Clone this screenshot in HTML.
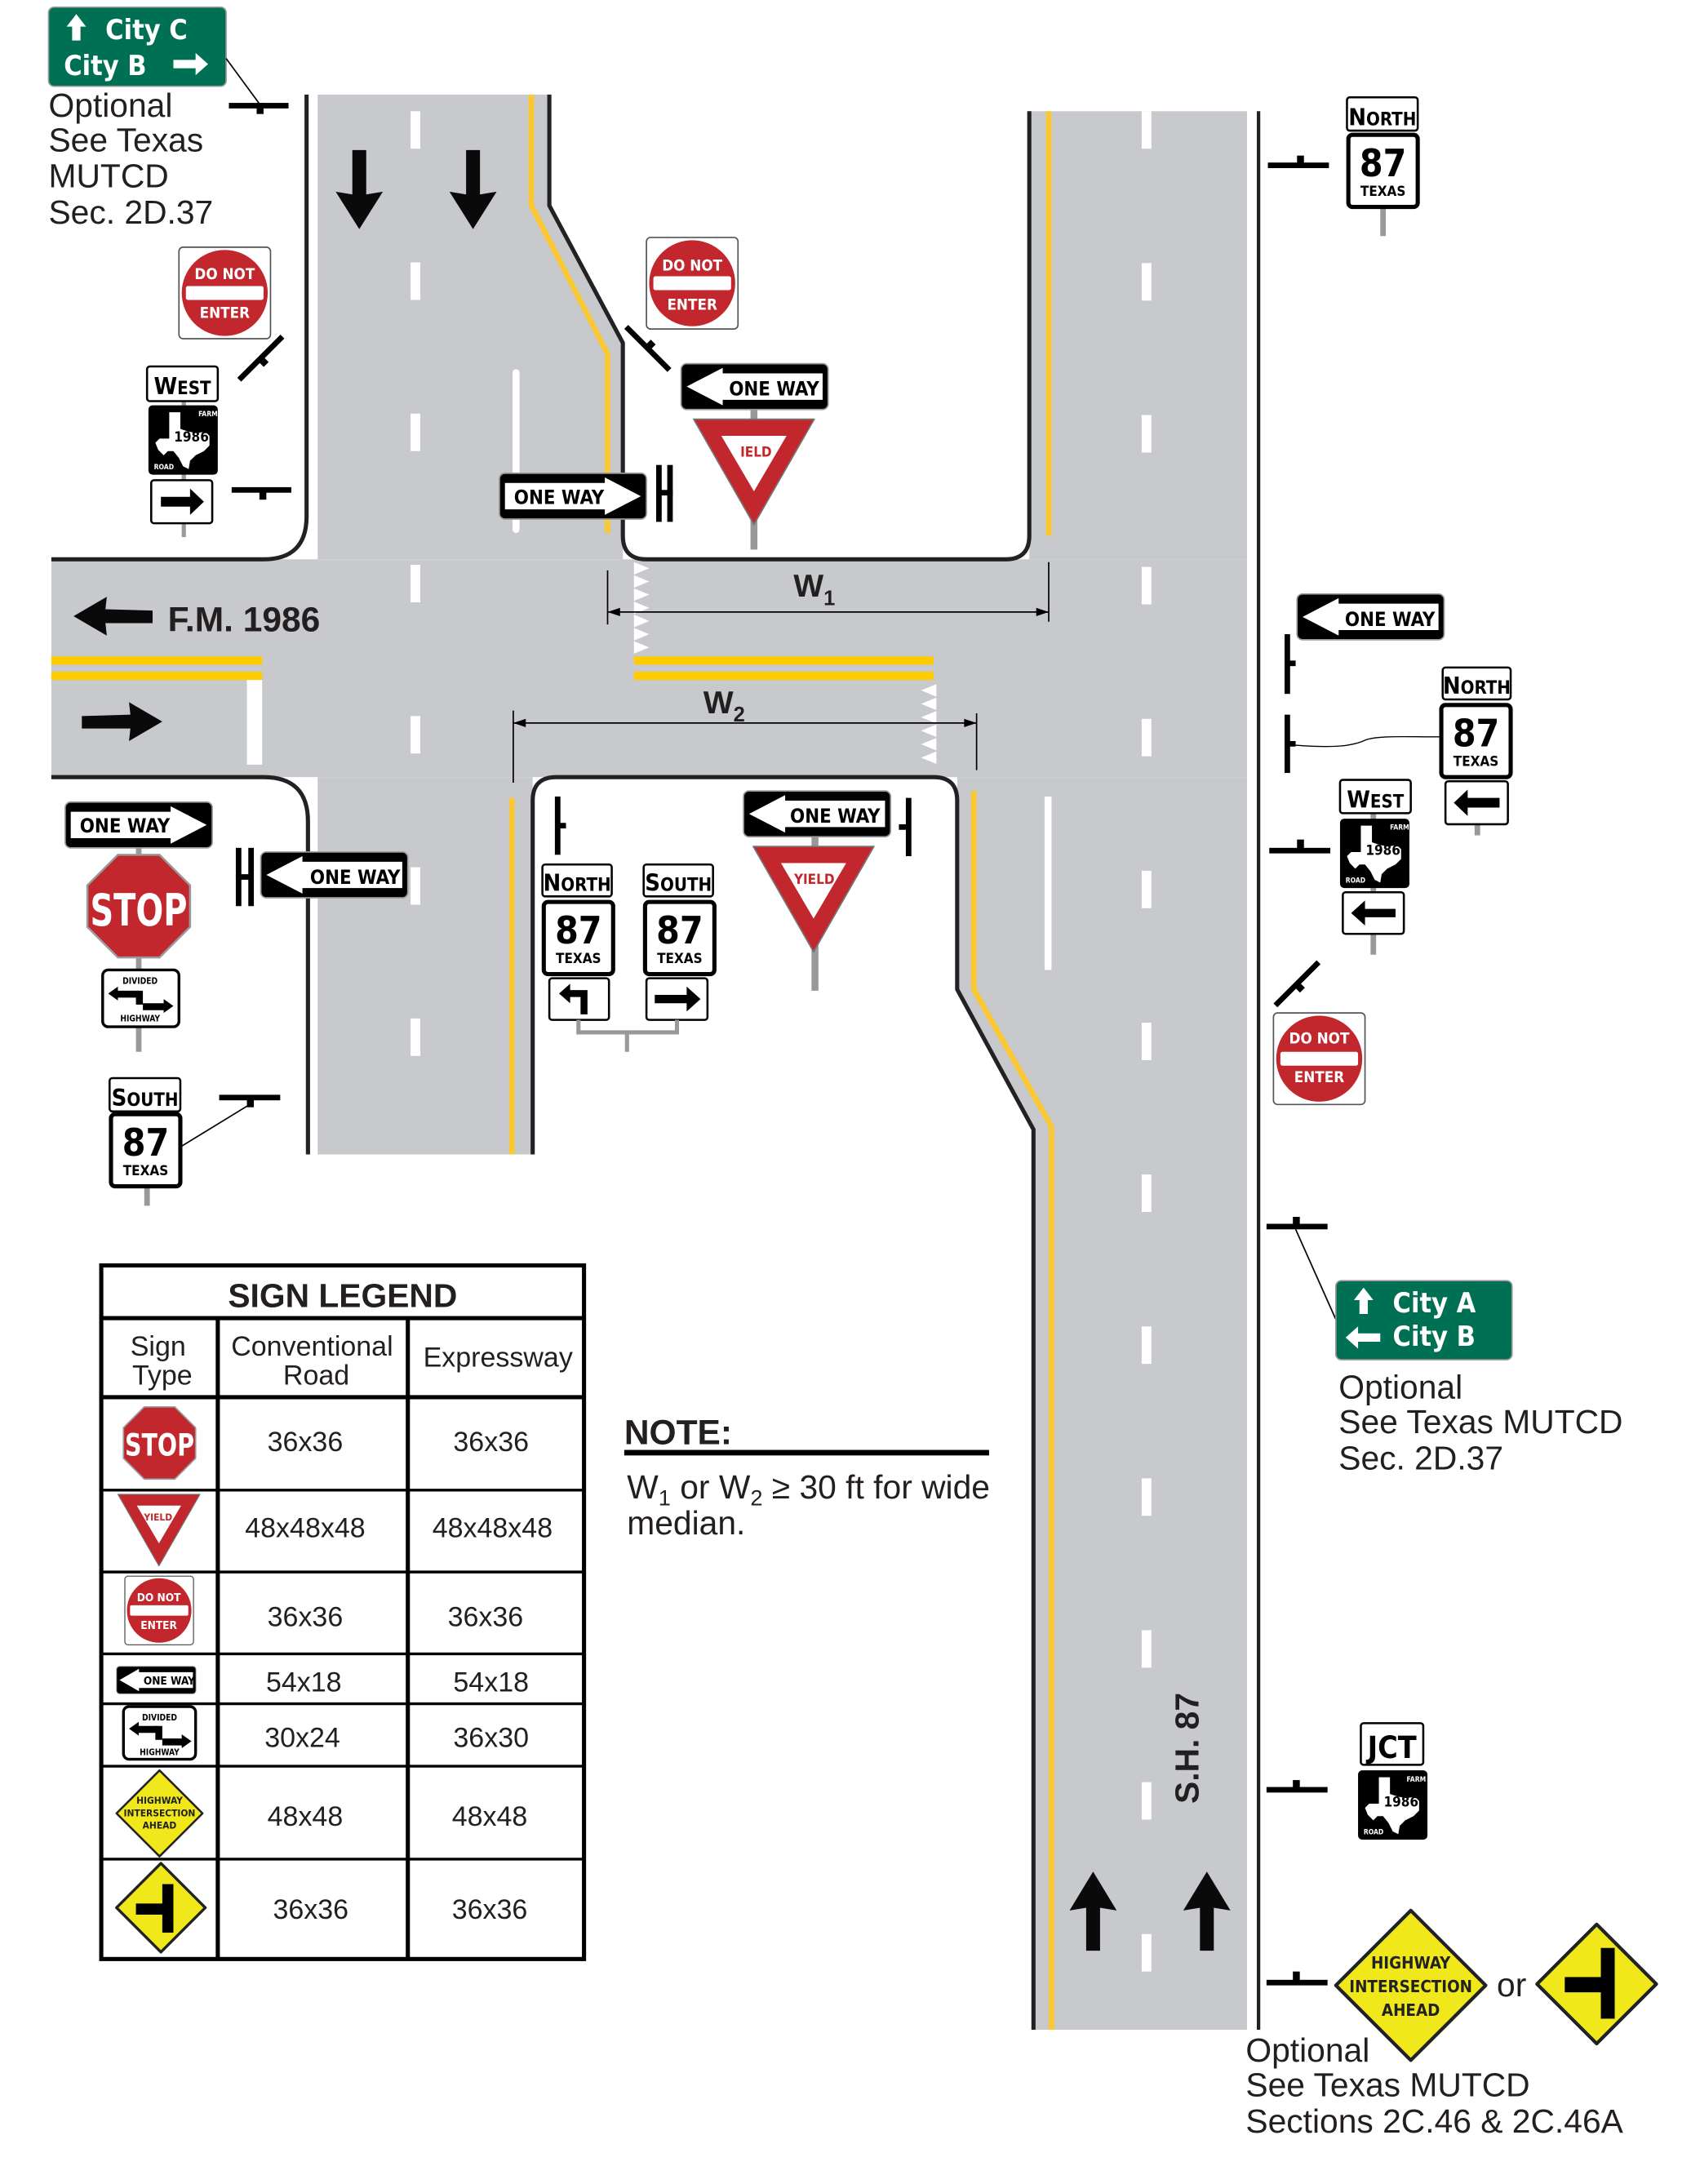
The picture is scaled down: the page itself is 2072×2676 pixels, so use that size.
<!DOCTYPE html>
<html><head><meta charset="utf-8"><style>
html,body{margin:0;padding:0;background:#fff}
svg{display:block}
.s{font-family:"DejaVu Sans Condensed","DejaVu Sans",sans-serif;font-weight:bold}
.a{font-family:"Liberation Sans",Arial,sans-serif}
</style></head><body>
<svg width="2072" height="2676" viewBox="0 0 1219 1574" xmlns="http://www.w3.org/2000/svg">
<defs>
<path id="tx" d="M10,0 H18 V12 L24,14 L30,15 L36,14 L39,17 L39,24 L35,28 L29,31 L25,35 L24,41 L20,39 L17,33 L13,28 L9,28 L6,31 L2,27 L0,22 L3,19 H10 Z"/>
<g id="owL"><rect x="0" y="0" width="106" height="33" rx="4" fill="#000" stroke="#999"/><polygon points="4,16.5 30,3 30,7 102,7 102,26 30,26 30,30" fill="#fff"/></g>
<g id="owR"><use href="#owL" transform="translate(106,0) scale(-1,1)"/></g>
<g id="dne"><rect x="0" y="0" width="66" height="66" rx="3" fill="#fff" stroke="#555"/><circle cx="33" cy="33" r="31" fill="#C1272D"/><rect x="5" y="28" width="56" height="10" rx="1.5" fill="#fff"/></g>
<g id="yld"><polygon points="0,0 87,0 43.5,76" fill="#C1272D" stroke="#777" stroke-linejoin="round"/><polygon points="20,12 67,12 43.5,52" fill="#fff"/></g>
<g id="fm"><rect x="0" y="0" width="50" height="50" rx="3" fill="#000"/><use href="#tx" fill="#fff" transform="translate(5,5)"/></g>
<g id="sh"><rect x="0" y="0" width="50" height="52" rx="3" fill="#fff" stroke="#000" stroke-width="3"/></g>
</defs>

<!-- ROADS -->
<g fill="#C8C9CC">
<rect x="37" y="403" width="862" height="157"/>
<polygon points="229,68 396,68 396,148 449,247 449,403 229,403"/>
<rect x="742" y="80" width="157" height="323"/>
<rect x="229" y="560" width="155" height="272"/>
<polygon points="690,560 899,560 899,1463 745,1463 745,814 690,713"/>
</g>
<g fill="none" stroke="#222" stroke-width="3">
<path d="M221,68 V372 Q221,403 190,403 H37"/>
<path d="M396,68 V148 L449,247 V386 Q449,403 466,403 H725 Q742,403 742,386 V80"/>
<path d="M907,80 V1463"/>
<path d="M37,560 H190 Q222,560 222,592 V832"/>
<path d="M384,832 V577 Q384,560 401,560 H673 Q690,560 690,577 V713 L745,814 V1463"/>
</g>
<g fill="none" stroke="#F9C832" stroke-width="4">
<path d="M383,68 V148 L438,255 V384"/>
<path d="M756,80 V386"/>
<path d="M369,575 V832"/>
<path d="M702,570 V713 L758,812 V1463"/>
</g>
<g fill="#FFCC00">
<rect x="37" y="473" width="152" height="6"/><rect x="37" y="484" width="152" height="6"/>
<rect x="457" y="473" width="216" height="6"/><rect x="457" y="484" width="216" height="6"/>
</g>
<g fill="#fff">
<rect x="296" y="80" width="7" height="27"/><rect x="296" y="189" width="7" height="27"/><rect x="296" y="298" width="7" height="27"/><rect x="296" y="407" width="7" height="27"/><rect x="296" y="516" width="7" height="27"/><rect x="296" y="625" width="7" height="27"/><rect x="296" y="734" width="7" height="27"/>
<rect x="823" y="80" width="7" height="27"/><rect x="823" y="189.5" width="7" height="27"/><rect x="823" y="299" width="7" height="27"/><rect x="823" y="408.5" width="7" height="27"/><rect x="823" y="518" width="7" height="27"/><rect x="823" y="627.5" width="7" height="27"/><rect x="823" y="737" width="7" height="27"/><rect x="823" y="846.5" width="7" height="27"/><rect x="823" y="956" width="7" height="27"/><rect x="823" y="1065.5" width="7" height="27"/><rect x="823" y="1175" width="7" height="27"/><rect x="823" y="1284.5" width="7" height="27"/><rect x="823" y="1394" width="7" height="27"/>
<rect x="369.5" y="266" width="5" height="118" rx="2.5"/>
<rect x="753" y="574" width="5" height="125"/>
<rect x="178" y="490" width="11" height="61"/>
<rect x="899" y="80" width="7" height="1383"/>
<path d="M457,405 l11,4.5 l-11,4.5z M457,414.5 l11,4.5 l-11,4.5z M457,424 l11,4.5 l-11,4.5z M457,433.5 l11,4.5 l-11,4.5z M457,443 l11,4.5 l-11,4.5z M457,452.5 l11,4.5 l-11,4.5z M457,462 l11,4.5 l-11,4.5z"/>
<path d="M675,493 l-11,4.5 l11,4.5z M675,502.7 l-11,4.5 l11,4.5z M675,512.4 l-11,4.5 l11,4.5z M675,522.1 l-11,4.5 l11,4.5z M675,531.8 l-11,4.5 l11,4.5z M675,541.5 l-11,4.5 l11,4.5z"/>
</g>
<g fill="#0a0a0a">
<polygon points="254,108 264,108 264,140 276,138 259,165 242,138 254,140"/>
<polygon points="336,108 346,108 346,140 358,138 341,165 324,138 336,140"/>
<polygon points="53,444 77,430 76,439 110,440 110,449 76,449 77,458"/>
<polygon points="117,520 93,506 94,515 59,516 59,525 94,525 93,534"/>
<polygon points="788,1349 805,1377 793,1375 793,1406 783,1406 783,1375 771,1377"/>
<polygon points="870,1349 887,1377 875,1375 875,1406 865,1406 865,1375 853,1377"/>
</g>
<text x="121" y="455" class="a" font-size="25" font-weight="bold" fill="#231f20">F.M. 1986</text>
<text transform="translate(864,1300) rotate(-90)" class="a" font-size="24" font-weight="bold" fill="#231f20">S.H. 87</text>

<g stroke="#000" stroke-width="1" fill="none">
<path d="M438,411 V450 M756,405 V448 M438,441 H756"/>
<path d="M370,512 V564 M704,514 V555 M370,521 H704"/>
</g>
<g fill="#000">
<polygon points="438,441 447,438 447,444"/><polygon points="756,441 747,438 747,444"/>
<polygon points="370,521 379,518 379,524"/><polygon points="704,521 695,518 695,524"/>
</g>
<text x="572" y="430" class="a" font-size="23" font-weight="bold" fill="#231f20">W<tspan font-size="15" dy="6">1</tspan></text>
<text x="507" y="514" class="a" font-size="23" font-weight="bold" fill="#231f20">W<tspan font-size="15" dy="6">2</tspan></text>

<!-- Upper left -->
<rect x="35" y="5" width="128" height="57" rx="4" fill="#007054" stroke="#999"/>
<polygon points="55,10 62,19 58,19 58,29 52,29 52,19 48,19" fill="#fff"/>
<text x="76" y="28" class="s" font-size="20" fill="#fff">City C</text>
<text x="46" y="54" class="s" font-size="20" fill="#fff">City B</text>
<polygon points="150,46 141,38 141,43 125,43 125,49 141,49 141,54" fill="#fff"/>
<line x1="163" y1="42" x2="188" y2="76" stroke="#000" stroke-width="1"/>
<rect x="165" y="74" width="43" height="4" fill="#000"/><rect x="185" y="74" width="5" height="8" fill="#000"/>
<g class="a" font-size="24" fill="#231f20"><text x="35" y="84">Optional</text><text x="35" y="109">See Texas</text><text x="35" y="135">MUTCD</text><text x="35" y="161">Sec. 2D.37</text></g>

<use href="#dne" x="129" y="178"/>
<text x="162" y="201" class="s" font-size="11" fill="#fff" text-anchor="middle">DO  NOT</text>
<text x="162" y="229" class="s" font-size="11" fill="#fff" text-anchor="middle">ENTER</text>
<g transform="translate(188,258) rotate(-45)"><rect x="-22" y="-2" width="44" height="4"/><rect x="-3" y="0" width="5" height="6"/></g>

<rect x="131" y="287" width="3" height="100" fill="#999"/>
<rect x="106" y="264" width="51" height="25" rx="2" fill="#fff" stroke="#000" stroke-width="1.5"/>
<text x="131.5" y="284" class="s" font-size="17" fill="#000" text-anchor="middle">W<tspan font-size="13">EST</tspan></text>
<use href="#fm" x="107" y="292"/>
<text x="138" y="318" class="s" font-size="10" fill="#000" text-anchor="middle">1986</text>
<text x="143" y="300" class="s" font-size="5" fill="#fff">FARM</text>
<text x="111" y="338" class="s" font-size="5" fill="#fff">ROAD</text>
<rect x="109" y="346" width="44" height="31" rx="2" fill="#fff" stroke="#000" stroke-width="1.5"/>
<polygon points="147,361.5 137,352 137,358 116,358 116,365 137,365 137,371" fill="#000"/>
<rect x="167" y="351" width="43" height="4" fill="#000"/><rect x="187" y="353" width="5" height="7" fill="#000"/>

<!-- upper median -->
<use href="#dne" x="466" y="171"/>
<text x="499" y="195" class="s" font-size="11" fill="#fff" text-anchor="middle">DO  NOT</text>
<text x="499" y="223" class="s" font-size="11" fill="#fff" text-anchor="middle">ENTER</text>
<g transform="translate(467,251) rotate(45)"><rect x="-22" y="-2" width="44" height="4"/><rect x="-3" y="-6" width="5" height="6"/></g>
<rect x="541" y="292" width="5" height="104" fill="#999"/>
<use href="#owL" x="491" y="262"/>
<text x="558" y="285" class="s" font-size="14" fill="#000" text-anchor="middle">ONE WAY</text>
<use href="#yld" x="500" y="302"/>
<text x="545" y="329" class="s" font-size="10" fill="#C1272D" text-anchor="middle">IELD</text>
<use href="#owR" x="360" y="341"/>
<text x="403" y="363" class="s" font-size="14" fill="#000" text-anchor="middle">ONE WAY</text>
<g fill="#000"><rect x="473" y="335" width="4" height="41"/><rect x="481" y="335" width="4" height="41"/><rect x="473" y="353" width="12" height="4"/></g>

<!-- lower left quadrant -->
<rect x="98" y="608" width="4" height="150" fill="#999"/>
<use href="#owR" x="47" y="578"/>
<text x="90" y="600" class="s" font-size="14" fill="#000" text-anchor="middle">ONE WAY</text>
<polygon points="137,638 137,668 115,690 85,690 63,668 63,638 85,616 115,616" fill="#C1272D" stroke="#999" stroke-width="1.5"/>
<text x="100" y="667" class="s" font-size="32" fill="#fff" text-anchor="middle" textLength="70" lengthAdjust="spacingAndGlyphs">STOP</text>
<rect x="74" y="699" width="55" height="41" rx="4" fill="#fff" stroke="#000" stroke-width="2"/>
<text x="101" y="709" class="s" font-size="6" fill="#000" text-anchor="middle">DIVIDED</text>
<text x="101" y="736" class="s" font-size="6" fill="#000" text-anchor="middle">HIGHWAY</text>
<polygon points="78,716 85,711 85,714 100,714 100,719 85,719 85,721" fill="#000"/>
<rect x="98" y="714" width="5" height="10" fill="#000"/>
<polygon points="125,725 118,720 118,723 103,723 103,728 118,728 118,730" fill="#000"/>
<use href="#owL" x="188" y="614"/>
<text x="256" y="637" class="s" font-size="14" fill="#000" text-anchor="middle">ONE WAY</text>
<g fill="#000"><rect x="170" y="611" width="4" height="42"/><rect x="179" y="611" width="4" height="42"/><rect x="170" y="630" width="12" height="4"/></g>

<rect x="104" y="850" width="4" height="19" fill="#999"/>
<rect x="79" y="777" width="51" height="24" rx="2" fill="#fff" stroke="#000" stroke-width="1.5"/>
<text x="104.5" y="797" class="s" font-size="17" fill="#000" text-anchor="middle">S<tspan font-size="13">OUTH</tspan></text>
<use href="#sh" x="80" y="803"/>
<text x="105" y="833" class="s" font-size="27" fill="#000" text-anchor="middle" font-family="DejaVu Sans">87</text>
<text x="105" y="847" class="s" font-size="10" fill="#000" text-anchor="middle">TEXAS</text>
<rect x="158" y="789" width="44" height="4" fill="#000"/><rect x="178" y="791" width="5" height="7" fill="#000"/>
<line x1="180" y1="796" x2="131" y2="826" stroke="#000" stroke-width="1"/>

<!-- lower median -->
<g fill="#000"><rect x="400" y="574" width="4" height="42"/><rect x="402" y="593" width="6" height="4"/></g>
<rect x="391" y="623" width="50" height="23" rx="2" fill="#fff" stroke="#000" stroke-width="1.5"/>
<text x="416" y="642" class="s" font-size="17" fill="#000" text-anchor="middle">N<tspan font-size="13">ORTH</tspan></text>
<use href="#sh" x="392" y="650"/>
<text x="417" y="680" class="s" font-size="27" fill="#000" text-anchor="middle" font-family="DejaVu Sans">87</text>
<text x="417" y="694" class="s" font-size="10" fill="#000" text-anchor="middle">TEXAS</text>
<rect x="396" y="705" width="43" height="30" rx="2" fill="#fff" stroke="#000" stroke-width="1.5"/>
<path d="M421,731 V716 H410" fill="none" stroke="#000" stroke-width="5"/><polygon points="403,716 411,709 411,723" fill="#000"/>
<rect x="464" y="623" width="50" height="23" rx="2" fill="#fff" stroke="#000" stroke-width="1.5"/>
<text x="489" y="642" class="s" font-size="17" fill="#000" text-anchor="middle">S<tspan font-size="13">OUTH</tspan></text>
<use href="#sh" x="465" y="650"/>
<text x="490" y="680" class="s" font-size="27" fill="#000" text-anchor="middle" font-family="DejaVu Sans">87</text>
<text x="490" y="694" class="s" font-size="10" fill="#000" text-anchor="middle">TEXAS</text>
<rect x="466" y="705" width="44" height="30" rx="2" fill="#fff" stroke="#000" stroke-width="1.5"/>
<polygon points="505,720 495,711 495,717 472,717 472,723 495,723 495,729" fill="#000"/>
<path d="M417,735 V744 H488 V735 M452,744 V758" fill="none" stroke="#999" stroke-width="3"/>

<rect x="585" y="600" width="5" height="114" fill="#999"/>
<use href="#owL" x="536" y="570"/>
<text x="602" y="593" class="s" font-size="14" fill="#000" text-anchor="middle">ONE WAY</text>
<use href="#yld" x="543" y="610"/>
<text x="587" y="637" class="s" font-size="10" fill="#C1272D" text-anchor="middle">YIELD</text>
<g fill="#000"><rect x="653" y="575" width="4" height="42"/><rect x="648" y="594" width="6" height="4"/></g>

<!-- Right side -->
<rect x="914" y="117" width="44" height="4" fill="#000"/><rect x="935" y="112" width="5" height="6" fill="#000"/>
<rect x="995" y="148" width="4" height="22" fill="#999"/>
<rect x="971" y="70" width="51" height="24" rx="2" fill="#fff" stroke="#000" stroke-width="1.5"/>
<text x="996.5" y="90" class="s" font-size="17" fill="#000" text-anchor="middle">N<tspan font-size="13">ORTH</tspan></text>
<use href="#sh" x="972" y="97"/>
<text x="997" y="127" class="s" font-size="27" fill="#000" text-anchor="middle" font-family="DejaVu Sans">87</text>
<text x="997" y="141" class="s" font-size="10" fill="#000" text-anchor="middle">TEXAS</text>

<use href="#owL" x="935" y="428"/>
<text x="1002" y="451" class="s" font-size="14" fill="#000" text-anchor="middle">ONE WAY</text>
<g fill="#000"><rect x="926" y="457" width="4" height="43"/><rect x="928" y="476" width="6" height="4"/>
<rect x="926" y="515" width="4" height="42"/><rect x="928" y="534" width="6" height="4"/></g>
<path d="M934,537 C960,539 975,538 985,533 C995,530 1010,531 1038,531" fill="none" stroke="#000" stroke-width="0.8"/>
<rect x="1063" y="590" width="4" height="12" fill="#999"/>
<rect x="1040" y="481" width="49" height="23" rx="2" fill="#fff" stroke="#000" stroke-width="1.5"/>
<text x="1064.5" y="500" class="s" font-size="17" fill="#000" text-anchor="middle">N<tspan font-size="13">ORTH</tspan></text>
<use href="#sh" x="1039" y="508"/>
<text x="1064" y="538" class="s" font-size="27" fill="#000" text-anchor="middle" font-family="DejaVu Sans">87</text>
<text x="1064" y="552" class="s" font-size="10" fill="#000" text-anchor="middle">TEXAS</text>
<rect x="1042" y="563" width="45" height="31" rx="2" fill="#fff" stroke="#000" stroke-width="1.5"/>
<polygon points="1048,578.5 1058,569 1058,575 1081,575 1081,582 1058,582 1058,588" fill="#000"/>

<rect x="988" y="585" width="4" height="103" fill="#999"/>
<rect x="966" y="562" width="51" height="24" rx="2" fill="#fff" stroke="#000" stroke-width="1.5"/>
<text x="991.5" y="582" class="s" font-size="17" fill="#000" text-anchor="middle">W<tspan font-size="13">EST</tspan></text>
<use href="#fm" x="966" y="590"/>
<text x="997" y="616" class="s" font-size="10" fill="#000" text-anchor="middle">1986</text>
<text x="1002" y="598" class="s" font-size="5" fill="#fff">FARM</text>
<text x="970" y="636" class="s" font-size="5" fill="#fff">ROAD</text>
<rect x="968" y="643" width="44" height="30" rx="2" fill="#fff" stroke="#000" stroke-width="1.5"/>
<polygon points="974,658 984,649 984,655 1006,655 1006,661 984,661 984,667" fill="#000"/>
<rect x="915" y="611" width="44" height="4" fill="#000"/><rect x="935" y="605" width="5" height="7" fill="#000"/>

<g transform="translate(935,709) rotate(-45)"><rect x="-22" y="-2" width="44" height="4"/><rect x="-3" y="0" width="5" height="6"/></g>
<use href="#dne" x="918" y="730"/>
<text x="951" y="752" class="s" font-size="11" fill="#fff" text-anchor="middle">DO  NOT</text>
<text x="951" y="780" class="s" font-size="11" fill="#fff" text-anchor="middle">ENTER</text>

<rect x="913" y="882" width="44" height="4" fill="#000"/><rect x="932" y="877" width="5" height="6" fill="#000"/>
<line x1="934" y1="886" x2="963" y2="951" stroke="#000" stroke-width="1"/>
<rect x="963" y="923" width="127" height="57" rx="4" fill="#007054" stroke="#999"/>
<polygon points="983,928 990,937 986,937 986,947 980,947 980,937 976,937" fill="#fff"/>
<text x="1004" y="946" class="s" font-size="20" fill="#fff">City A</text>
<polygon points="970,964 979,956 979,961 995,961 995,967 979,967 979,972" fill="#fff"/>
<text x="1004" y="970" class="s" font-size="20" fill="#fff">City B</text>
<g class="a" font-size="24" fill="#231f20"><text x="965" y="1008">Optional</text><text x="965" y="1033">See Texas MUTCD</text><text x="965" y="1059">Sec. 2D.37</text></g>

<rect x="913" y="1288" width="44" height="4" fill="#000"/><rect x="932" y="1283" width="5" height="6" fill="#000"/>
<rect x="981" y="1242" width="45" height="30" rx="2" fill="#fff" stroke="#000" stroke-width="1.5"/>
<text x="1003.5" y="1267" class="s" font-size="22" fill="#000" text-anchor="middle">JCT</text>
<use href="#fm" x="979" y="1276"/>
<text x="1010" y="1302" class="s" font-size="10" fill="#000" text-anchor="middle">1986</text>
<text x="1014" y="1284" class="s" font-size="5" fill="#fff">FARM</text>
<text x="983" y="1322" class="s" font-size="5" fill="#fff">ROAD</text>

<rect x="913" y="1427" width="44" height="4" fill="#000"/><rect x="932" y="1421" width="5" height="7" fill="#000"/>
<polygon points="1017,1377 1071,1431 1017,1485 963,1431" fill="#F0E81A" stroke="#222" stroke-width="2.5" stroke-linejoin="round"/>
<g class="s" font-size="12" fill="#222" text-anchor="middle"><text x="1017" y="1419">HIGHWAY</text><text x="1017" y="1436">INTERSECTION</text><text x="1017" y="1453">AHEAD</text></g>
<text x="1079" y="1439" class="a" font-size="24" fill="#231f20">or</text>
<polygon points="1151,1387 1194,1430 1151,1473 1108,1430" fill="#F0E81A" stroke="#222" stroke-width="2.5" stroke-linejoin="round"/>
<rect x="1154" y="1404" width="10" height="51" fill="#000"/><rect x="1128" y="1425" width="28" height="11" fill="#000"/>
<g class="a" font-size="24" fill="#231f20"><text x="898" y="1486">Optional</text><text x="898" y="1511">See Texas MUTCD</text><text x="898" y="1537">Sections 2C.46 &amp; 2C.46A</text></g>

<!-- NOTE -->
<text x="450" y="1041" class="a" font-size="25" font-weight="bold" fill="#231f20">NOTE:</text>
<rect x="450" y="1045" width="263" height="4" fill="#000"/>
<g class="a" font-size="24" fill="#231f20"><text x="452" y="1080">W<tspan font-size="16" dy="5">1</tspan><tspan dy="-5"> or W</tspan><tspan font-size="16" dy="5">2</tspan><tspan dy="-5"> ≥ 30 ft for wide</tspan></text><text x="452" y="1106">median.</text></g>

<!-- LEGEND -->
<g fill="none" stroke="#000">
<rect x="73" y="912" width="348" height="500" stroke-width="3"/>
<path d="M73,950 H421 M73,1007 H421" stroke-width="3"/>
<path d="M73,1074 H421 M73,1133 H421 M73,1192 H421 M73,1228 H421 M73,1273 H421 M73,1340 H421" stroke-width="2"/>
<path d="M157,950 V1412 M294,950 V1412" stroke-width="3"/>
</g>
<g class="a" fill="#231f20" text-anchor="middle">
<text x="247" y="942" font-size="24" font-weight="bold">SIGN LEGEND</text>
<text x="114" y="977" font-size="20">Sign</text><text x="117" y="998" font-size="20">Type</text>
<text x="225" y="977" font-size="20">Conventional</text><text x="228" y="998" font-size="20">Road</text>
<text x="359" y="985" font-size="20">Expressway</text>
<text x="220" y="1046" font-size="20">36x36</text><text x="354" y="1046" font-size="20">36x36</text>
<text x="220" y="1108" font-size="20">48x48x48</text><text x="355" y="1108" font-size="20">48x48x48</text>
<text x="220" y="1172" font-size="20">36x36</text><text x="350" y="1172" font-size="20">36x36</text>
<text x="219" y="1219" font-size="20">54x18</text><text x="354" y="1219" font-size="20">54x18</text>
<text x="218" y="1259" font-size="20">30x24</text><text x="354" y="1259" font-size="20">36x30</text>
<text x="220" y="1316" font-size="20">48x48</text><text x="353" y="1316" font-size="20">48x48</text>
<text x="224" y="1383" font-size="20">36x36</text><text x="353" y="1383" font-size="20">36x36</text>
</g>
<polygon points="141,1029 141,1051 126,1066 104,1066 89,1051 89,1029 104,1014 126,1014" fill="#C1272D" stroke="#999"/>
<text x="115" y="1049" class="s" font-size="22" fill="#fff" text-anchor="middle" textLength="50" lengthAdjust="spacingAndGlyphs">STOP</text>
<g transform="translate(85,1077) scale(0.68)"><use href="#yld"/></g>
<text x="114" y="1096" class="s" font-size="7" fill="#C1272D" text-anchor="middle">YIELD</text>
<g transform="translate(90,1136) scale(0.75)"><use href="#dne"/></g>
<text x="114.5" y="1154" class="s" font-size="8" fill="#fff" text-anchor="middle">DO  NOT</text>
<text x="114.5" y="1174" class="s" font-size="8" fill="#fff" text-anchor="middle">ENTER</text>
<g transform="translate(84,1201) scale(0.54,0.6)"><use href="#owL"/></g>
<text x="122" y="1214" class="s" font-size="8" fill="#000" text-anchor="middle">ONE WAY</text>
<rect x="89" y="1230" width="52" height="38" rx="4" fill="#fff" stroke="#000" stroke-width="2"/>
<text x="115" y="1240" class="s" font-size="6" fill="#000" text-anchor="middle">DIVIDED</text>
<text x="115" y="1265" class="s" font-size="6" fill="#000" text-anchor="middle">HIGHWAY</text>
<polygon points="93,1246 100,1241 100,1244 114,1244 114,1249 100,1249 100,1251" fill="#000"/>
<rect x="112" y="1244" width="5" height="10" fill="#000"/>
<polygon points="138,1255 131,1250 131,1253 117,1253 117,1258 131,1258 131,1260" fill="#000"/>
<polygon points="115,1276 146,1307 115,1338 84,1307" fill="#F0E81A" stroke="#222" stroke-width="1.5" stroke-linejoin="round"/>
<g class="s" font-size="7" fill="#222" text-anchor="middle"><text x="115" y="1300">HIGHWAY</text><text x="115" y="1309">INTERSECTION</text><text x="115" y="1318">AHEAD</text></g>
<polygon points="116,1343 148,1375 116,1407 84,1375" fill="#F0E81A" stroke="#222" stroke-width="2" stroke-linejoin="round"/>
<rect x="117" y="1358" width="8" height="35" fill="#000"/><rect x="98" y="1372" width="21" height="8" fill="#000"/>
</svg>
</body></html>
